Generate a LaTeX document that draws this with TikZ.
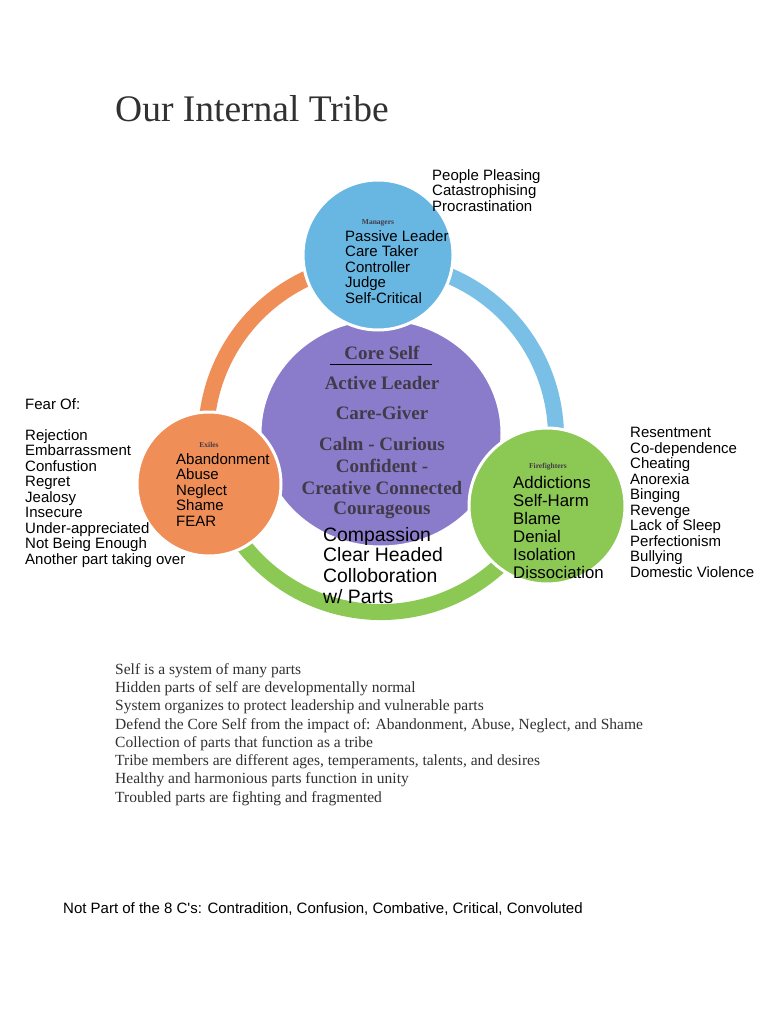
\documentclass[tikz,border=0pt]{standalone}
\usepackage{fontspec}
\setmainfont{Liberation Serif}
\newfontfamily\arialfont{Liberation Sans}
\usetikzlibrary{positioning,shapes.geometric}
\definecolor{mgrblue}{RGB}{104,183,226}
\definecolor{ringblue}{RGB}{122,192,230}
\definecolor{exorange}{RGB}{240,142,88}
\definecolor{ffgreen}{RGB}{140,200,84}
\definecolor{corepurple}{RGB}{138,124,202}
\definecolor{coreink}{RGB}{66,58,72}
\definecolor{bodyink}{RGB}{50,48,50}
\tikzset{
  part/.style={circle, draw=white, line width=3pt, inner sep=0pt},
  ring/.style={line width=16pt},
  sanslist/.style={font=\arialfont\fontsize{15}{15.5}\selectfont, align=left, anchor=north west, inner sep=0pt},
  biglist/.style={sanslist, font=\arialfont\fontsize{16.8}{18.1}\selectfont},
  hugelist/.style={sanslist, font=\arialfont\fontsize{19.4}{20.7}\selectfont},
  corelabel/.style={font=\bfseries\fontsize{19}{21}\selectfont, text=coreink, anchor=base, inner sep=0pt},
  partname/.style={font=\bfseries\fontsize{7.5}{8}\selectfont, text=coreink, inner sep=0pt}
}
\begin{document}
\begin{tikzpicture}[x=1pt,y=-1pt]
\useasboundingbox[fill=white] (0,0) rectangle (768,1024);

\node[anchor=base west, inner sep=0pt, text=bodyink, font=\fontsize{37.5}{40}\selectfont] (title) at (115,122) {Our Internal Tribe};

\coordinate (ringc) at (381,437);
\draw[ring, ringblue] (ringc) ++(-91:175) arc[start angle=-91, end angle=22, radius=175];
\draw[ring, ffgreen] (ringc) ++(22:175) arc[start angle=22, end angle=165, radius=175];
\draw[ring, exorange] (ringc) ++(165:175) arc[start angle=165, end angle=269, radius=175];

\node[ellipse, fill=corepurple, draw=white, line width=3pt, minimum width=242pt, minimum height=228pt] (core) at (381,433) {};
\node[part, fill=mgrblue, minimum size=150pt] (managers) at (378,255) {};
\node[part, fill=exorange, minimum size=144pt] (exiles) at (209,484) {};
\node[part, fill=ffgreen, minimum size=156pt] (firefighters) at (547,506) {};

\node[corelabel] (coretitle) at (382,359) {Core Self};
\draw[line width=0.8pt] (330,364) -- (432,364);
\node[corelabel] (active) at (382,389) {Active Leader};
\node[corelabel] (caregiver) at (382,419) {Care-Giver};
\node[corelabel] (calm) at (382,450) {Calm - Curious};
\node[corelabel] (confident) at (382,472) {Confident -};
\node[corelabel] (creative) at (382,494) {Creative Connected};
\node[corelabel] (courageous) at (382,514) {Courageous};
\node[hugelist] (compassion) at (323,527) {Compassion\\Clear Headed\\Colloboration\\w/ Parts};

\node[partname] (mgrname) at (378,223) {Managers};
\node[sanslist] (mgrlist) at (345,230) {Passive Leader\\Care Taker\\Controller\\Judge\\Self-Critical};
\node[sanslist] (pleasing) at (432,169) {People Pleasing\\Catastrophising\\Procrastination};

\node[partname] (exname) at (209,445) {Exiles};
\node[sanslist] (exlist) at (176,453) {Abandonment\\Abuse\\Neglect\\Shame\\FEAR};
\node[sanslist] (fearof) at (25,398) {Fear Of:\\[15.5pt]Rejection\\Embarrassment\\Confustion\\Regret\\Jealosy\\Insecure\\Under-appreciated\\Not Being Enough\\Another part taking over};

\node[partname] (ffname) at (548,467) {Firefighters};
\node[biglist] (fflist) at (513,476) {Addictions\\Self-Harm\\Blame\\Denial\\Isolation\\Dissociation};
\node[sanslist] (resent) at (630,427) {Resentment\\Co-dependence\\Cheating\\Anorexia\\Binging\\Revenge\\Lack of Sleep\\Perfectionism\\Bullying\\Domestic Violence};

\node[anchor=north west, inner sep=0pt, align=left, text=bodyink, font=\fontsize{15.5}{18.3}\selectfont] (notes) at (115,663) {Self is a system of many parts\\Hidden parts of self are developmentally normal\\System organizes to protect leadership and vulnerable parts\\Defend the Core Self from the impact of: Abandonment, Abuse, Neglect, and Shame\\Collection of parts that function as a tribe\\Tribe members are different ages, temperaments, talents, and desires\\Healthy and harmonious parts function in unity\\Troubled parts are fighting and fragmented};

\node[anchor=base west, inner sep=0pt, font=\arialfont\fontsize{15}{15.5}\selectfont] (notpart) at (63,913) {Not Part of the 8 C's: Contradition, Confusion, Combative, Critical, Convoluted};
\end{tikzpicture}
\end{document}
